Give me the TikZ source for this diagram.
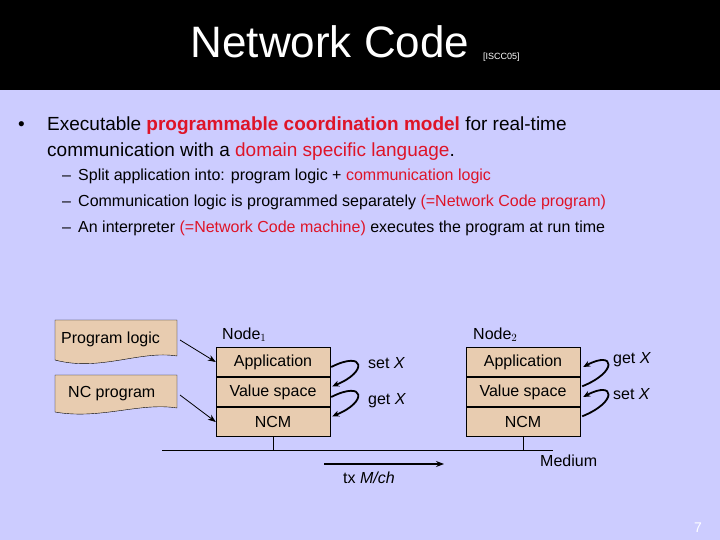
\documentclass[tikz,border=0pt]{standalone}
\usepackage{fontspec}
\setmainfont{Liberation Sans}
\usetikzlibrary{arrows.meta}
\definecolor{bg}{RGB}{204,204,255}
\definecolor{tan}{RGB}{232,204,176}
\definecolor{hl}{RGB}{222,20,40}
\begin{document}
\begin{tikzpicture}[x=1pt,y=-1pt,
  lay/.style={draw,fill=tan,minimum width=114pt,minimum height=29pt,inner sep=0pt,font=\fontsize{16}{18}\selectfont},
  lbl/.style={inner sep=0pt,anchor=base west,font=\fontsize{16}{18}\selectfont},
  doc/.style={draw,fill=tan},
  cur/.style={-{Stealth[length=7pt,width=6pt]},line width=1.8pt},
  arr/.style={-{Stealth[length=8pt,width=6pt]},line width=0.8pt}]
\useasboundingbox (0,0) rectangle (720,540);
\fill[bg] (0,0) rectangle (720,540);
\fill[black] (0,0) rectangle (720,90);
\node[anchor=base,inner sep=0pt,text=white,font=\fontsize{44}{48}\selectfont] (title) at (330,58) {Network Code};
\node[anchor=base west,inner sep=0pt,text=white,font=\fontsize{9}{10}\selectfont] (ref) at (483,60) {[ISCC05]};
% bullets
\node[anchor=base west,inner sep=0pt,font=\fontsize{19}{22}\selectfont] (b0) at (18,131) {•};
\node[anchor=base west,inner sep=0pt,font=\fontsize{19}{22}\selectfont] (b1) at (47,131) {Executable \textcolor{hl}{\textbf{programmable coordination model}} for real-time};
\node[anchor=base west,inner sep=0pt,font=\fontsize{19}{22}\selectfont] (b2) at (47,157) {communication with a \textcolor{hl}{domain specific language}.};
\foreach \y/\t [count=\i] in {181/{Split application into: program logic + \textcolor{hl}{communication logic}},207/{Communication logic is programmed separately \textcolor{hl}{(=Network Code program)}},233/{An interpreter \textcolor{hl}{(=Network Code machine)} executes the program at run time}}{
  \node[anchor=base west,inner sep=0pt,font=\fontsize{16}{18}\selectfont] (d\i) at (62,\y) {–};
  \node[anchor=base west,inner sep=0pt,font=\fontsize{16}{18}\selectfont] (s\i) at (78,\y) {\t};
}
% documents
\draw[doc] (55,320) -- (177,320) -- (177,356) .. controls (140,350) and (100,372) .. (55,360) -- cycle;
\node[lbl] (pl) at (61,343) {Program logic};
\draw[doc] (55,375) -- (177,375) -- (177,408) .. controls (140,402) and (100,420) .. (55,412) -- cycle;
\node[lbl] (ncp) at (68,397) {NC program};
% node 1
\node[lbl] (n1) at (222,339) {Node$_1$};
\node[lay] (a1) at (273,362) {Application};
\node[lay] (v1) at (273,392) {Value space};
\node[lay] (m1) at (273,422) {NCM};
% node 2
\node[lbl] (n2) at (473,339) {Node$_2$};
\node[lay] (a2) at (523,362) {Application};
\node[lay] (v2) at (523,392) {Value space};
\node[lay] (m2) at (523,422) {NCM};
% arrows from docs
\draw[arr] (180,340) -- (a1.west);
\draw[arr] (180,395) -- (m1.west);
% curved arrows
\draw[cur] ([xshift=1pt,yshift=-5pt]a1.east) .. controls (365,350) and (368,372) .. ([xshift=2pt,yshift=-9pt]v1.north east);
\draw[cur] ([xshift=1pt,yshift=-5pt]v1.east) .. controls (365,380) and (368,402) .. ([xshift=2pt,yshift=-9pt]m1.north east);
\draw[cur] ([xshift=2pt,yshift=-9pt]v2.north east) .. controls (618,372) and (615,350) .. ([xshift=3pt,yshift=-5pt]a2.east);
\draw[cur] ([xshift=2pt,yshift=-9pt]m2.north east) .. controls (618,402) and (615,380) .. ([xshift=3pt,yshift=-5pt]v2.east);
\node[lbl] (sx1) at (368,368) {set \textit{X}};
\node[lbl] (gx1) at (368,404) {get \textit{X}};
\node[lbl] (gx2) at (613,363) {get \textit{X}};
\node[lbl] (sx2) at (613,399) {set \textit{X}};
% medium
\coordinate (ml) at (162,450);
\coordinate (mr) at (553,450);
\draw[line width=0.6pt] (ml) -- (mr);
\draw[line width=0.6pt] (m1.south) -- (m1.south |- ml);
\draw[line width=0.6pt] (m2.south) -- (m2.south |- ml);
\node[lbl] (med) at (540,466) {Medium};
\coordinate (t1) at (324,464);
\coordinate (t2) at (444,464);
\draw[arr,line width=1.2pt] (t1) -- (t2);
\node[lbl] (tx) at (343,483) {tx \textit{M/ch}};
\node[anchor=base east,inner sep=0pt,text=white,font=\fontsize{14}{16}\selectfont] (pg) at (702,532) {7};
\end{tikzpicture}
\end{document}
